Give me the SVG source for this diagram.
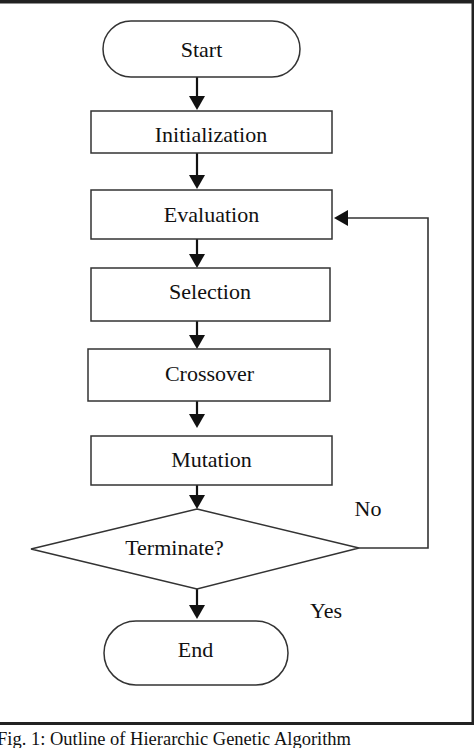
<svg xmlns="http://www.w3.org/2000/svg" width="474" height="748" viewBox="0 0 474 748">
<style>
.box{fill:#fff;stroke:#333;stroke-width:1.5}
.t{font-family:"Liberation Serif","Times New Roman",serif;font-size:22px;fill:#111;text-anchor:middle}
.c{stroke:#111;stroke-width:2.2;fill:none}
.fb{stroke:#333;stroke-width:1.6;fill:none}
</style>
<defs>
<marker id="ah" markerUnits="userSpaceOnUse" markerWidth="14" markerHeight="16" viewBox="0 0 14 16" refX="0" refY="8" orient="auto">
<path d="M0,0 L14,8 L0,16 z" fill="#111"/>
</marker>
</defs>
<rect x="0" y="0" width="474" height="748" fill="#fff"/>
<g id="frame">
<rect x="0" y="0" width="474" height="3.5" fill="#222"/>
<rect x="471.5" y="0" width="2.5" height="725" fill="#222"/>
<rect x="0" y="722" width="474" height="3" fill="#222"/>
</g>
<g id="connectors">
<line class="c" x1="197" y1="77" x2="197" y2="96" marker-end="url(#ah)"/>
<line class="c" x1="197" y1="153" x2="197" y2="175" marker-end="url(#ah)"/>
<line class="c" x1="197" y1="239" x2="197" y2="254" marker-end="url(#ah)"/>
<line class="c" x1="197" y1="321" x2="197" y2="335" marker-end="url(#ah)"/>
<line class="c" x1="197" y1="401" x2="197" y2="414" marker-end="url(#ah)"/>
<line class="c" x1="197" y1="485" x2="197" y2="495" marker-end="url(#ah)"/>
<line class="c" x1="197" y1="589" x2="197" y2="605" marker-end="url(#ah)"/>
<polyline class="fb" points="359,548 428,548 428,218 348,218" marker-end="url(#ah)"/>
</g>
<g id="start">
<rect class="box" x="103" y="21" width="197" height="56" rx="28" ry="28"/>
<text class="t" x="201.5" y="57">Start</text>
</g>
<g id="initialization">
<rect class="box" x="91" y="111" width="241" height="42"/>
<text class="t" x="211" y="142">Initialization</text>
</g>
<g id="evaluation">
<rect class="box" x="91" y="190" width="241" height="49"/>
<text class="t" x="211.5" y="222">Evaluation</text>
</g>
<g id="selection">
<rect class="box" x="91" y="268" width="239" height="53"/>
<text class="t" x="210" y="299">Selection</text>
</g>
<g id="crossover">
<rect class="box" x="88" y="349" width="242" height="52"/>
<text class="t" x="209.5" y="381">Crossover</text>
</g>
<g id="mutation">
<rect class="box" x="91" y="436" width="241" height="49"/>
<text class="t" x="211.5" y="467">Mutation</text>
</g>
<g id="terminate">
<polygon class="box" points="197,509 359,548 197,589 31,549"/>
<text class="t" x="174.5" y="555">Terminate?</text>
</g>
<g id="end">
<rect class="box" x="104" y="621" width="184" height="64" rx="32" ry="32"/>
<text class="t" x="195.5" y="657">End</text>
</g>
<g id="labels">
<text class="t" x="368" y="516">No</text>
<text class="t" x="326" y="618">Yes</text>
</g>
<g id="caption">
<text x="-3" y="745" style="font-family:'Liberation Serif','Times New Roman',serif;font-size:18.5px;fill:#111">Fig. 1: Outline of Hierarchic Genetic Algorithm</text>
</g>
</svg>
